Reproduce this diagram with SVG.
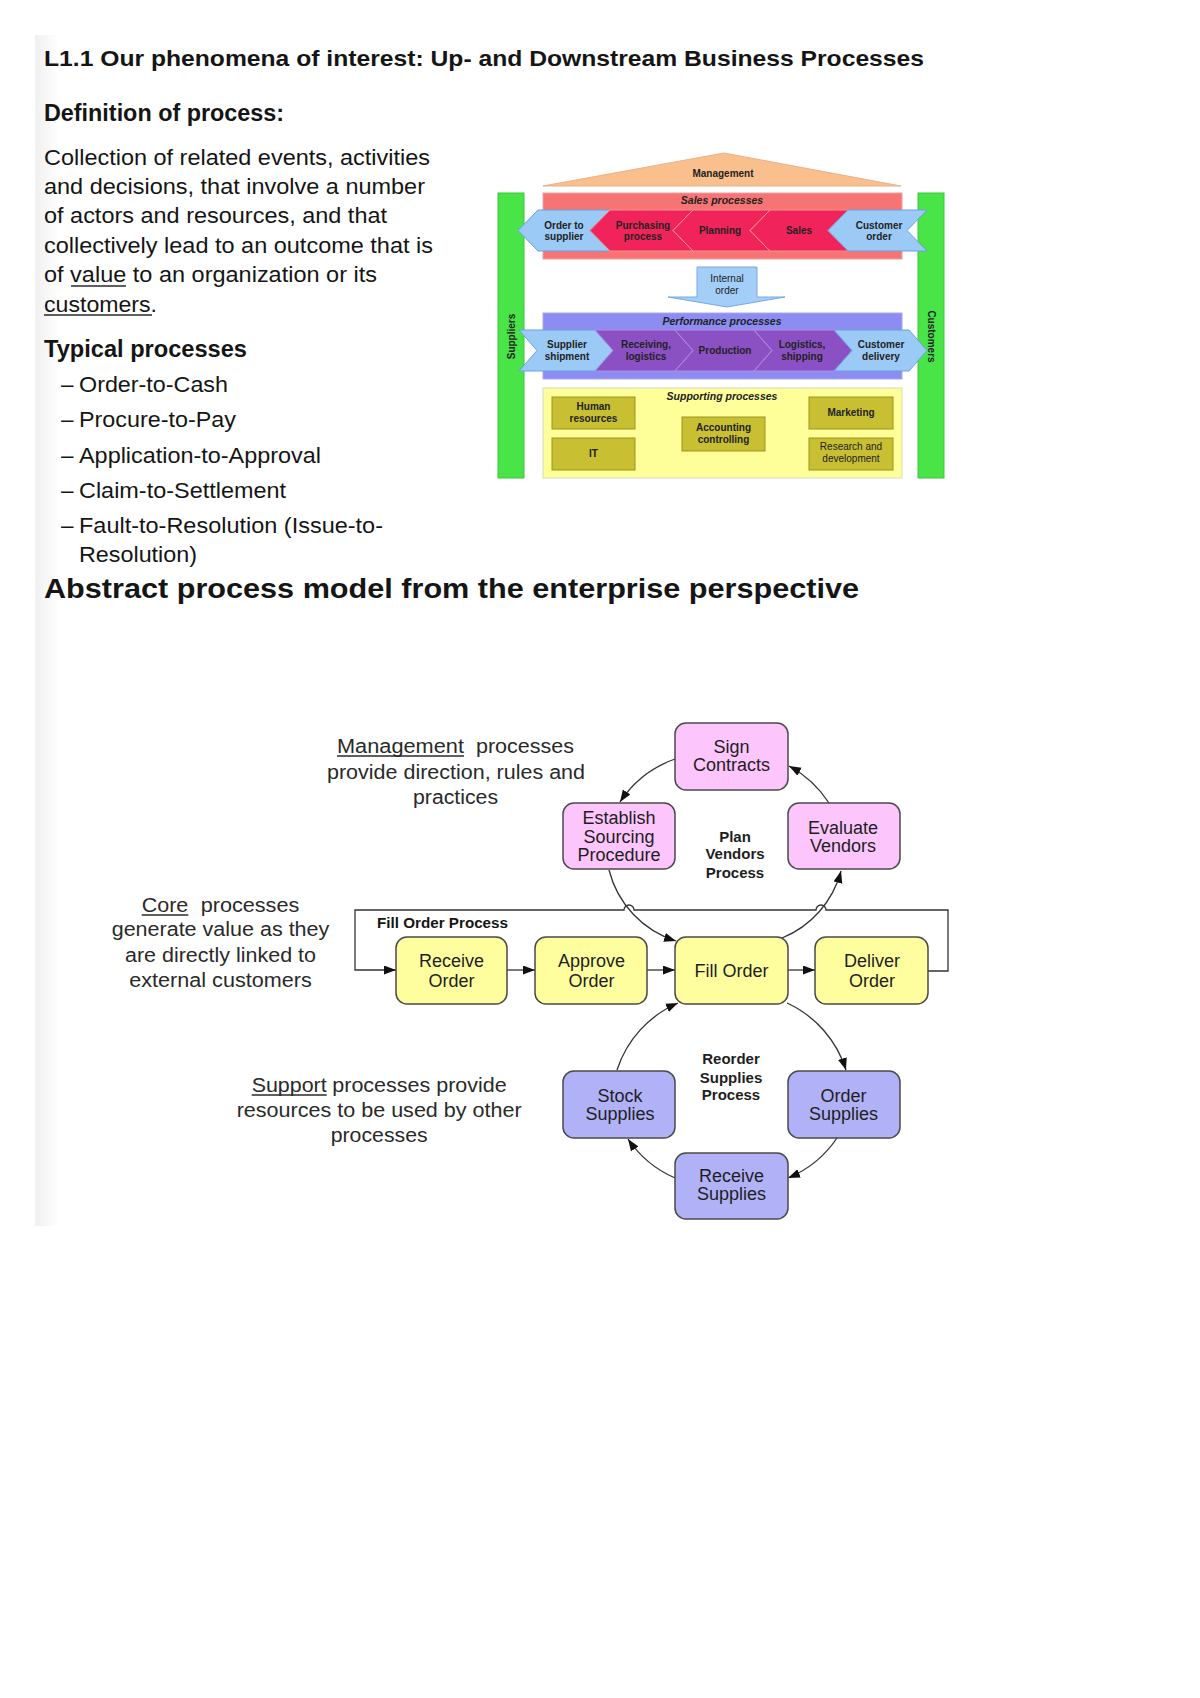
<svg xmlns="http://www.w3.org/2000/svg" width="1200" height="1698" viewBox="0 0 1200 1698">
<defs>
<style>
text{font-family:"Liberation Sans",Arial,Helvetica,sans-serif;fill:#151515}
.h1{font-size:22px;font-weight:bold}
.h2{font-size:23px;font-weight:bold}
.bd{font-size:22px}
.li{font-size:22.5px}
.h3{font-size:27px;font-weight:bold}
.an{font-size:19.5px;fill:#2a2a2a}
.bx{font-size:18px;text-anchor:middle;fill:#1e1e1e}
.lb{font-size:15px;font-weight:bold;text-anchor:middle;fill:#1e1e1e}
.hs{font-size:10px;font-weight:bold;text-anchor:middle;fill:#222}
.hn{font-size:10px;text-anchor:middle;fill:#222}
.hi{font-size:10.5px;font-style:italic;font-weight:bold;text-anchor:middle;fill:#222}
.pk{fill:#fcc6fc;stroke:#4a4a4a;stroke-width:1.5}
.yl{fill:#fefe9e;stroke:#4a4a4a;stroke-width:1.5}
.bl{fill:#b1b1f7;stroke:#4a4a4a;stroke-width:1.5}
.cn{fill:none;stroke:#333;stroke-width:1.3}
.ul{stroke:#2a2a2a;stroke-width:1.3}
.chr{fill:#f0245a;stroke:#f79090;stroke-width:1}
.chb{fill:#9ccaf6;stroke:#6aa0e0;stroke-width:1}
.chp{fill:#8a50c4;stroke:#b090e0;stroke-width:1}
.olv{fill:#c8c032;stroke:#9a9420;stroke-width:1}
</style>
<linearGradient id="strip" x1="0" y1="0" x2="1" y2="0">
<stop offset="0" stop-color="#f0f0f0"/>
<stop offset="1" stop-color="#ffffff"/>
</linearGradient>
<marker id="ah" markerUnits="userSpaceOnUse" markerWidth="13" markerHeight="10" refX="12" refY="4.5" orient="auto">
<path d="M0,0 L12,4.5 L0,9 z" fill="#111"/>
</marker>
</defs>
<rect x="0" y="0" width="1200" height="1698" fill="#fff"/>
<rect x="35" y="35" width="24" height="1191" fill="url(#strip)"/>

<!-- header text -->
<g id="header-text">
<text class="h1" x="44" y="66" textLength="880" lengthAdjust="spacingAndGlyphs">L1.1 Our phenomena of interest: Up- and Downstream Business Processes</text>
<text class="h2" x="44" y="121" textLength="240" lengthAdjust="spacingAndGlyphs">Definition of process:</text>
<text class="bd" x="44" y="165" textLength="386" lengthAdjust="spacingAndGlyphs">Collection of related events, activities</text>
<text class="bd" x="44" y="194" textLength="381" lengthAdjust="spacingAndGlyphs">and decisions, that involve a number</text>
<text class="bd" x="44" y="223.3" textLength="343" lengthAdjust="spacingAndGlyphs">of actors and resources, and that</text>
<text class="bd" x="44" y="252.7" textLength="389" lengthAdjust="spacingAndGlyphs">collectively lead to an outcome that is</text>
<text class="bd" x="44" y="281.7" textLength="333" lengthAdjust="spacingAndGlyphs">of value to an organization or its</text>
<text class="bd" x="44" y="311.7" textLength="113" lengthAdjust="spacingAndGlyphs">customers.</text>
<line class="ul" x1="71" y1="286" x2="126" y2="286"/>
<line class="ul" x1="44" y1="315" x2="152" y2="315"/>
<text class="h2" x="44" y="357" textLength="203" lengthAdjust="spacingAndGlyphs">Typical processes</text>
<text class="li" x="61">
<tspan x="61" y="392">–</tspan><tspan x="61" y="427.3">–</tspan><tspan x="61" y="463.3">–</tspan><tspan x="61" y="498.3">–</tspan><tspan x="61" y="532.7">–</tspan>
</text>
<text class="li" x="79" y="392" textLength="149" lengthAdjust="spacingAndGlyphs">Order-to-Cash</text>
<text class="li" x="79" y="427.3" textLength="157" lengthAdjust="spacingAndGlyphs">Procure-to-Pay</text>
<text class="li" x="79" y="463.3" textLength="242" lengthAdjust="spacingAndGlyphs">Application-to-Approval</text>
<text class="li" x="79" y="498.3" textLength="207" lengthAdjust="spacingAndGlyphs">Claim-to-Settlement</text>
<text class="li" x="79" y="532.7" textLength="304" lengthAdjust="spacingAndGlyphs">Fault-to-Resolution (Issue-to-</text>
<text class="li" x="79" y="561.7" textLength="118" lengthAdjust="spacingAndGlyphs">Resolution)</text>
<text class="h3" x="44" y="598" textLength="815" lengthAdjust="spacingAndGlyphs">Abstract process model from the enterprise perspective</text>
</g>

<!-- house diagram -->
<g id="house">
<polygon id="management" points="543,186 724,153 901,186" fill="#f9c08e" stroke="#eab088" stroke-width="1"/>
<text class="hs" x="723" y="177">Management</text>
<rect id="suppliers-bar" x="498" y="193" width="26" height="285" fill="#48e448" stroke="#3ac83a" stroke-width="1"/>
<text class="hs" transform="translate(515,336.5) rotate(-90)">Suppliers</text>
<rect id="customers-bar" x="918" y="193" width="26" height="285" fill="#48e448" stroke="#3ac83a" stroke-width="1"/>
<text class="hs" transform="translate(927.5,336.5) rotate(90)">Customers</text>

<g id="sales">
<rect x="543" y="193" width="359" height="66" fill="#f77474" stroke="#f0a0a0" stroke-width="1"/>
<text class="hi" x="722" y="204">Sales processes</text>
<polygon class="chb" points="518,230.5 538,210 610,210 590,230.5 610,251 538,251"/>
<polygon class="chr" points="590,230.5 610,210 693,210 673,230.5 693,251 610,251"/>
<polygon class="chr" points="673,230.5 693,210 770,210 750,230.5 770,251 693,251"/>
<polygon class="chr" points="750,230.5 770,210 848,210 828,230.5 848,251 770,251"/>
<polygon class="chb" points="828,230.5 848,210 927,210 907,230.5 927,251 848,251"/>
<text class="hs" x="564" y="228.5">Order to</text><text class="hs" x="564" y="240">supplier</text>
<text class="hs" x="643" y="228.5">Purchasing</text><text class="hs" x="643" y="240">process</text>
<text class="hs" x="720" y="234">Planning</text>
<text class="hs" x="799" y="234">Sales</text>
<text class="hs" x="879" y="228.5">Customer</text><text class="hs" x="879" y="240">order</text>
</g>

<g id="internal-order">
<polygon points="697,267 757,267 757,297 785,297 727,307 668,297 697,297" fill="#a2cef8" stroke="#78a8e0" stroke-width="1"/>
<text class="hn" x="727" y="281.5">Internal</text>
<text class="hn" x="727" y="293.5">order</text>
</g>

<g id="performance">
<rect x="543" y="313" width="359" height="66" fill="#8c8cf2" stroke="#a8a8f0" stroke-width="1"/>
<text class="hi" x="722" y="325">Performance processes</text>
<polygon class="chb" points="519,330 595,330 613,350.5 595,371 519,371 537,350.5"/>
<polygon class="chp" points="595,330 675,330 693,350.5 675,371 595,371 613,350.5"/>
<polygon class="chp" points="675,330 754,330 772,350.5 754,371 675,371 693,350.5"/>
<polygon class="chp" points="754,330 834,330 852,350.5 834,371 754,371 772,350.5"/>
<polygon class="chb" points="834,330 909,330 927,350.5 909,371 834,371 852,350.5"/>
<text class="hs" x="567" y="348">Supplier</text><text class="hs" x="567" y="360">shipment</text>
<text class="hs" x="646" y="348">Receiving,</text><text class="hs" x="646" y="360">logistics</text>
<text class="hs" x="725" y="354">Production</text>
<text class="hs" x="802" y="348">Logistics,</text><text class="hs" x="802" y="360">shipping</text>
<text class="hs" x="881" y="348">Customer</text><text class="hs" x="881" y="360">delivery</text>
</g>

<g id="supporting">
<rect x="543" y="388" width="359" height="90" fill="#ffff9a" stroke="#d8d8c0" stroke-width="1"/>
<text class="hi" x="722" y="400" font-weight="normal">Supporting processes</text>
<rect class="olv" x="552" y="397" width="83" height="32"/>
<text class="hs" x="593.5" y="410">Human</text><text class="hs" x="593.5" y="421.5">resources</text>
<rect class="olv" x="552" y="438" width="83" height="32"/>
<text class="hs" x="593.5" y="457">IT</text>
<rect class="olv" x="682" y="417" width="83" height="34"/>
<text class="hs" x="723.5" y="431">Accounting</text><text class="hs" x="723.5" y="442.5">controlling</text>
<rect class="olv" x="809" y="397" width="84" height="32"/>
<text class="hs" x="851" y="416">Marketing</text>
<rect class="olv" x="809" y="438" width="84" height="32"/>
<text class="hn" x="851" y="450">Research and</text><text class="hn" x="851" y="461.5">development</text>
</g>
</g>

<!-- annotations -->
<g id="annotations">
<text class="an" x="337" y="753.3" textLength="127" lengthAdjust="spacingAndGlyphs">Management</text>
<text class="an" x="476" y="753.3" textLength="98" lengthAdjust="spacingAndGlyphs">processes</text>
<line class="ul" x1="337" y1="756" x2="464" y2="756"/>
<text class="an" x="327" y="779.3" textLength="258" lengthAdjust="spacingAndGlyphs">provide direction, rules and</text>
<text class="an" x="413" y="804" textLength="85" lengthAdjust="spacingAndGlyphs">practices</text>

<text class="an" x="141.7" y="912.3" textLength="46.6" lengthAdjust="spacingAndGlyphs">Core</text>
<text class="an" x="200.7" y="912.3" textLength="98.6" lengthAdjust="spacingAndGlyphs">processes</text>
<line class="ul" x1="141.7" y1="915" x2="188.3" y2="915"/>
<text class="an" x="111.7" y="936" textLength="217.6" lengthAdjust="spacingAndGlyphs">generate value as they</text>
<text class="an" x="125" y="961.7" textLength="191" lengthAdjust="spacingAndGlyphs">are directly linked to</text>
<text class="an" x="129.3" y="986.7" textLength="182.4" lengthAdjust="spacingAndGlyphs">external customers</text>

<text class="an" x="251.7" y="1092.3" textLength="75" lengthAdjust="spacingAndGlyphs">Support</text>
<text class="an" x="332.3" y="1092.3" textLength="174.4" lengthAdjust="spacingAndGlyphs">processes provide</text>
<line class="ul" x1="251.7" y1="1095" x2="326.7" y2="1095"/>
<text class="an" x="236.7" y="1116.7" textLength="285" lengthAdjust="spacingAndGlyphs">resources to be used by other</text>
<text class="an" x="330.7" y="1141.7" textLength="97" lengthAdjust="spacingAndGlyphs">processes</text>

<text class="lb" x="735" y="841.7">Plan</text>
<text class="lb" x="735" y="859.3">Vendors</text>
<text class="lb" x="735" y="878.3">Process</text>
<text class="lb" x="731" y="1064">Reorder</text>
<text class="lb" x="731" y="1082.7">Supplies</text>
<text class="lb" x="731" y="1100">Process</text>
<text x="377" y="927.7" font-size="14.5" font-weight="bold" textLength="131" lengthAdjust="spacingAndGlyphs">Fill Order Process</text>
</g>

<!-- connectors -->
<g id="connectors">
<path class="cn" d="M928,971 H948 V910 H826 A5 5 0 0 0 816 910 H634 A5 5 0 0 0 624 910 H355 V970 H396" marker-end="url(#ah)"/>
<path class="cn" d="M507,970 H535" marker-end="url(#ah)"/>
<path class="cn" d="M647,970 H675" marker-end="url(#ah)"/>
<path class="cn" d="M788,970 H815" marker-end="url(#ah)"/>
<path class="cn" d="M675,759 A110 110 0 0 0 620,802" marker-end="url(#ah)"/>
<path class="cn" d="M829,803 A110 110 0 0 0 789,766" marker-end="url(#ah)"/>
<path class="cn" d="M609,870 A100 100 0 0 0 676,941" marker-end="url(#ah)"/>
<path class="cn" d="M782,938 A100 100 0 0 0 841,871" marker-end="url(#ah)"/>
<path class="cn" d="M617,1070 A110 110 0 0 1 678,1003" marker-end="url(#ah)"/>
<path class="cn" d="M787,1003 A110 110 0 0 1 846,1070" marker-end="url(#ah)"/>
<path class="cn" d="M837,1138 A110 110 0 0 1 788,1178" marker-end="url(#ah)"/>
<path class="cn" d="M675,1178 A110 110 0 0 1 628,1139" marker-end="url(#ah)"/>
</g>

<!-- nodes -->
<g id="sign-contracts"><rect class="pk" x="675" y="723" width="113" height="67" rx="11"/>
<text class="bx" x="731.5" y="753">Sign</text><text class="bx" x="731.5" y="771">Contracts</text></g>
<g id="establish-sourcing"><rect class="pk" x="563" y="803" width="112" height="66" rx="11"/>
<text class="bx" x="619" y="824">Establish</text><text class="bx" x="619" y="842.5">Sourcing</text><text class="bx" x="619" y="861">Procedure</text></g>
<g id="evaluate-vendors"><rect class="pk" x="788" y="803" width="112" height="66" rx="11"/>
<text class="bx" x="843" y="834">Evaluate</text><text class="bx" x="843" y="852">Vendors</text></g>
<g id="receive-order"><rect class="yl" x="396" y="937" width="111" height="67" rx="11"/>
<text class="bx" x="451.5" y="967">Receive</text><text class="bx" x="451.5" y="987">Order</text></g>
<g id="approve-order"><rect class="yl" x="535" y="937" width="112" height="67" rx="11"/>
<text class="bx" x="591.5" y="966.5">Approve</text><text class="bx" x="591.5" y="987">Order</text></g>
<g id="fill-order"><rect class="yl" x="675" y="937" width="113" height="67" rx="11"/>
<text class="bx" x="731.5" y="977">Fill Order</text></g>
<g id="deliver-order"><rect class="yl" x="815" y="937" width="113" height="67" rx="11"/>
<text class="bx" x="872" y="966.5">Deliver</text><text class="bx" x="872" y="987">Order</text></g>
<g id="stock-supplies"><rect class="bl" x="563" y="1071" width="112" height="67" rx="11"/>
<text class="bx" x="620" y="1101.5">Stock</text><text class="bx" x="620" y="1119.5">Supplies</text></g>
<g id="order-supplies"><rect class="bl" x="788" y="1071" width="112" height="67" rx="11"/>
<text class="bx" x="843.5" y="1101.5">Order</text><text class="bx" x="843.5" y="1119.5">Supplies</text></g>
<g id="receive-supplies"><rect class="bl" x="675" y="1153" width="113" height="66" rx="11"/>
<text class="bx" x="731.5" y="1181.5">Receive</text><text class="bx" x="731.5" y="1199.5">Supplies</text></g>
</svg>
